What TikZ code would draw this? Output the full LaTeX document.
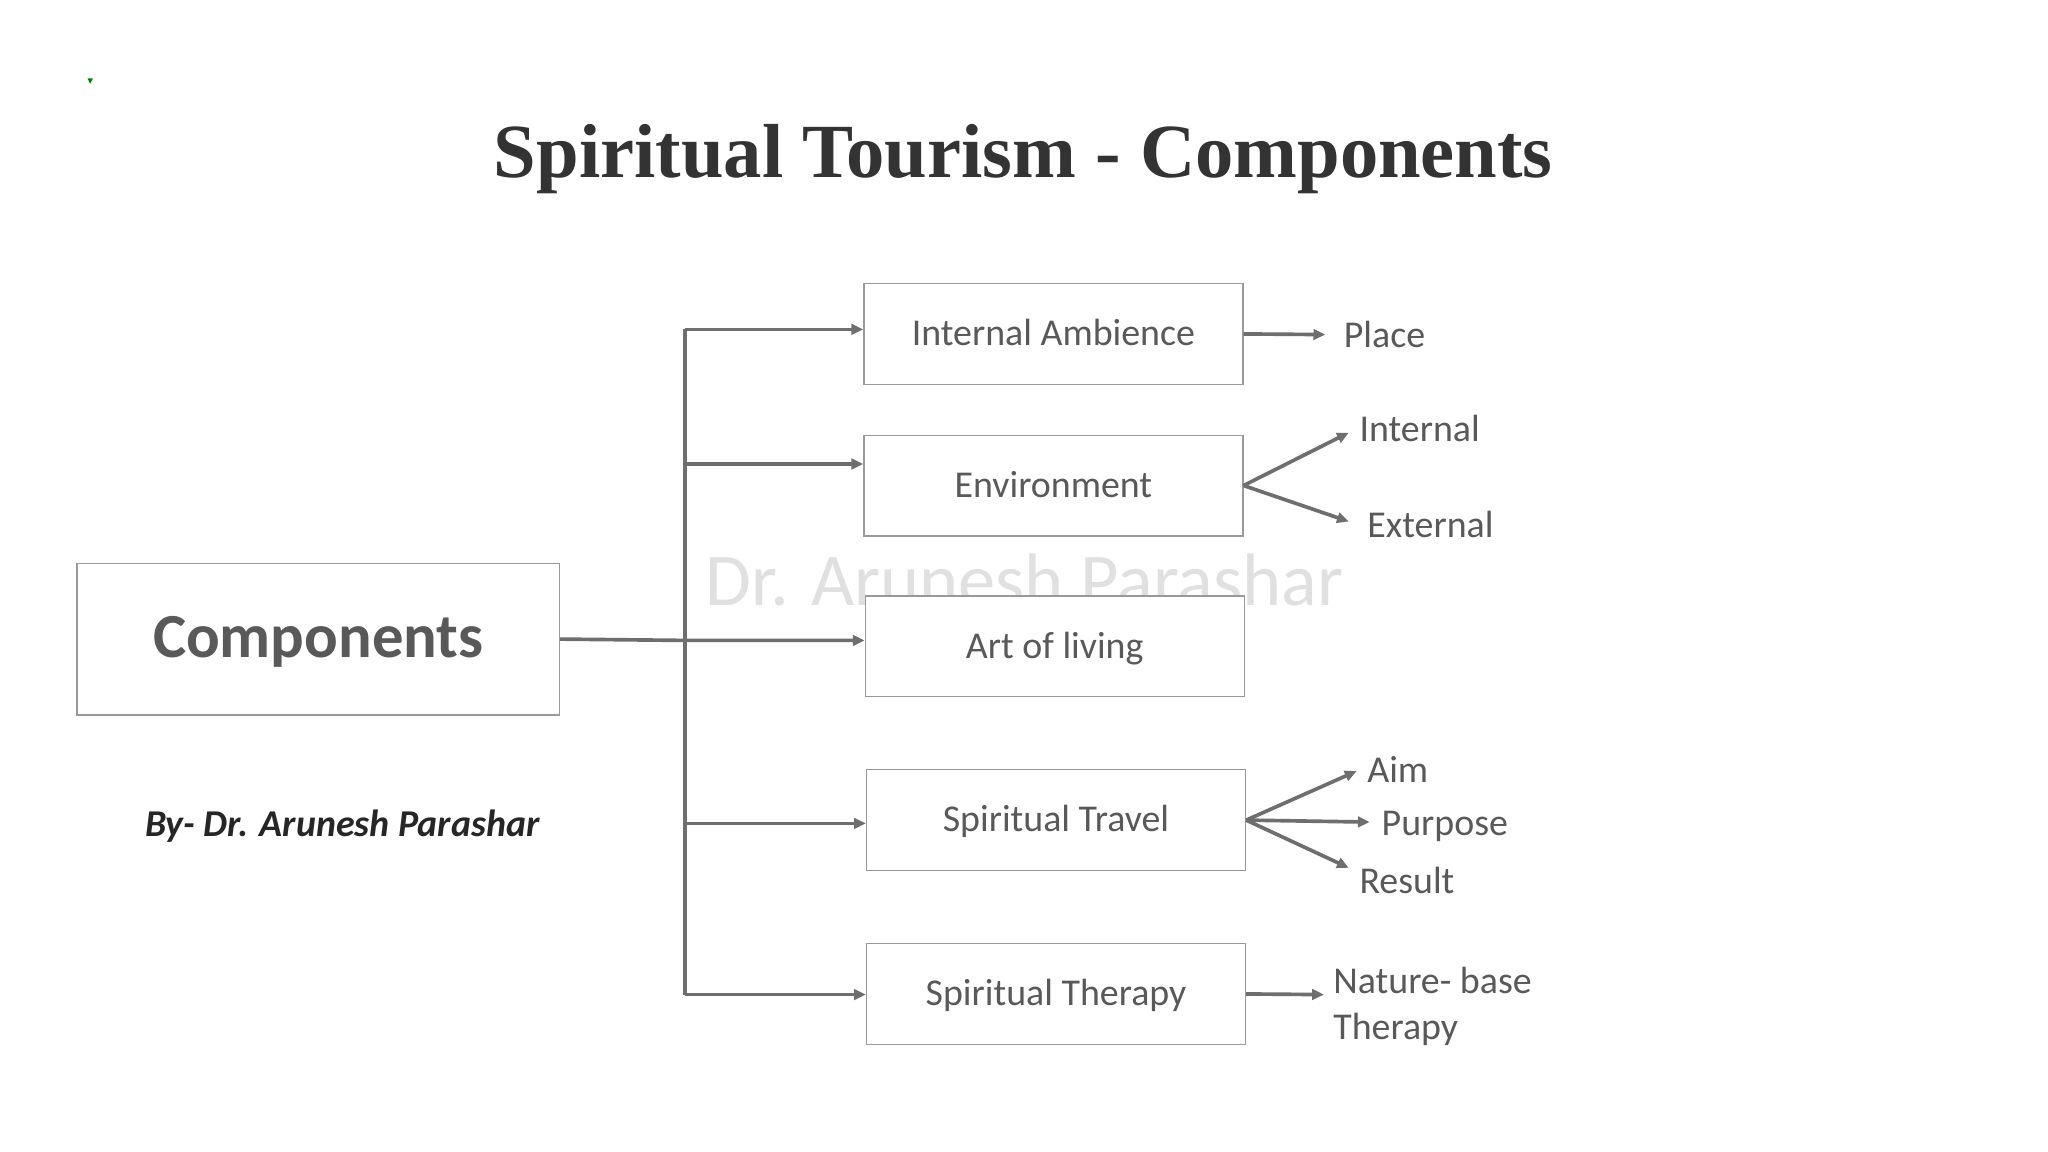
\documentclass[tikz,border=0pt]{standalone}
\usepackage{fontspec}
\setmainfont{Carlito}
\newfontfamily\titlefont{Liberation Serif}
\usetikzlibrary{arrows.meta}
\definecolor{txt}{HTML}{595959}
\definecolor{ln}{HTML}{6E6E6E}
\tikzset{
  comp/.style={draw=ln!70,line width=1pt,fill=white,minimum width=290pt,minimum height=77pt,text=txt,font=\fontsize{29}{33}\selectfont,inner sep=0pt,text depth=2pt},
  conn/.style={draw=ln,line width=2.8pt,-{Triangle[length=9pt,width=8pt]}},
  trunk/.style={draw=ln,line width=2.8pt},
  leaf/.style={anchor=west,text=txt,font=\fontsize{29}{33}\selectfont,inner sep=0pt}
}
\begin{document}
\begin{tikzpicture}[x=1pt,y=-1pt]
\useasboundingbox (0,0) rectangle (1567,881);
\fill[white] (0,0) rectangle (1567,881);
\fill[green!50!black] (67,60) -- (71,60) -- (69,64) -- cycle;
\node[font=\titlefont\bfseries\fontsize{58.6}{64}\selectfont,text=black!80] (title) at (783,122) {Spiritual Tourism - Components};
\node[text=black!12,font=\fontsize{57}{62}\selectfont] (wm) at (784,444) {Dr. Arunesh Parashar};
\node[comp,minimum width=369pt,minimum height=116pt,font=\bfseries\fontsize{48}{54}\selectfont,text depth=4pt] (c) at (243.5,489) {Components};
\node[text=black!85,font=\bfseries\itshape\fontsize{29}{33}\selectfont] (by) at (262,632) {By- Dr. Arunesh Parashar};
\node[comp] (ia) at (806,255.5) {Internal Ambience};
\node[comp] (env) at (806,371.5) {Environment};
\node[comp] (art) at (807,494.5) {Art of living};
\node[comp] (st) at (808,627.5) {Spiritual Travel};
\node[comp] (sth) at (808,760.5) {Spiritual Therapy};
\coordinate (t1) at (524,252);
\coordinate (t2) at (524,355);
\coordinate (t3) at (524,490);
\coordinate (t4) at (524,630);
\coordinate (t5) at (524,761);
\draw[trunk] (t1) -- (t5);
\draw[conn] (t1) -- (ia.west|-t1);
\draw[conn] (t2) -- (env.west|-t2);
\draw[conn] (c.east) -- (t3) -- (art.west|-t3);
\draw[conn] (t4) -- (st.west|-t4);
\draw[conn] (t5) -- (sth.west|-t5);
\node[leaf] (place) at (1028,256) {Place};
\node[leaf] (int) at (1040,328) {Internal};
\node[leaf] (ext) at (1046,401) {External};
\node[leaf] (aim) at (1046,589) {Aim};
\node[leaf] (pur) at (1057,632) {Purpose};
\node[leaf] (res) at (1040,674) {Result};
\node[leaf,align=left,font=\fontsize{29}{35}\selectfont] (nat) at (1020,770) {Nature- base\\Therapy};
\draw[conn] (ia.east) -- (1014,256);
\draw[conn] (env.east) -- (1032,331);
\draw[conn] (env.east) -- (1032,399);
\draw[conn] (st.east) -- (1038,590);
\draw[conn] (st.east) -- (1048,629);
\draw[conn] (st.east) -- (1032,664);
\draw[conn] (sth.east) -- (1013,761);
\end{tikzpicture}
\end{document}
